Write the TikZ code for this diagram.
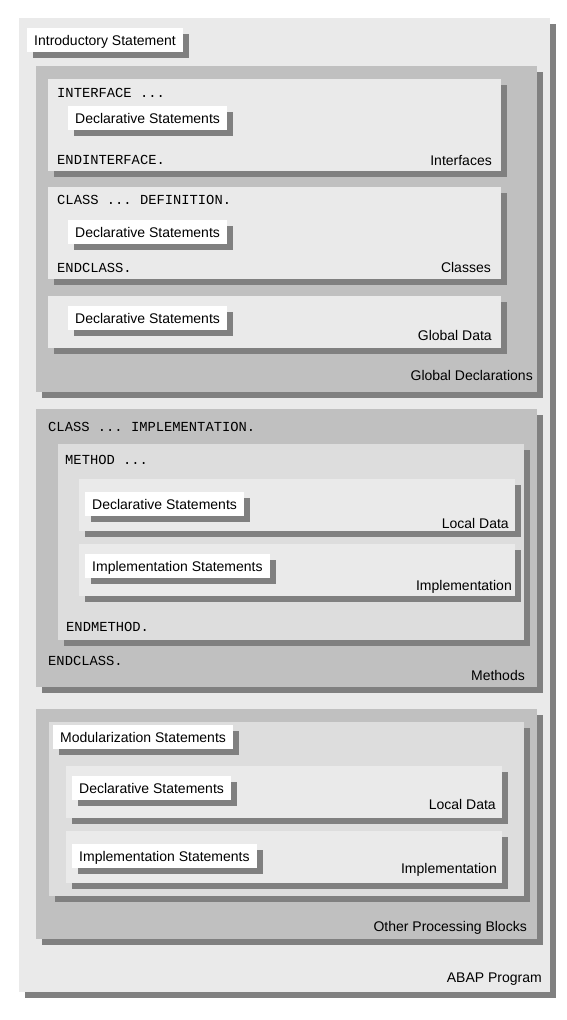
\documentclass[tikz,border=0pt]{standalone}
\usepackage{fontspec}
\setmainfont{Liberation Sans}
\setmonofont{Liberation Mono}
\usetikzlibrary{shadows}

\definecolor{progbg}{HTML}{EAEAEA}
\definecolor{blockbg}{HTML}{C0C0C0}
\definecolor{methbg}{HTML}{DDDDDD}
\definecolor{partbg}{HTML}{EAEAEA}
\definecolor{shadowgray}{HTML}{808080}

\newcommand\boxfont{\fontsize{14}{16}\selectfont}
\newcommand\codefont{\fontsize{13.8}{16}\selectfont\ttfamily}

\tikzset{
  shade6/.style={drop shadow={shadow xshift=6pt, shadow yshift=-6pt,
      fill=shadowgray, opacity=1}},
  stmt/.style={anchor=north west, fill=white, shade6, inner xsep=7pt,
      inner ysep=7pt, text height=10pt, text depth=0pt, font=\boxfont},
  code/.style={anchor=base west, inner sep=0pt, font=\codefont},
  lbl/.style={anchor=base east, inner sep=0pt, font=\boxfont}
}

\begin{document}
\begin{tikzpicture}[x=1pt,y=-1pt]
        \useasboundingbox (0,0) rectangle (567,1020);
        % ABAP program
        \fill[progbg, shade6] (19,18) rectangle (550,992);
        \node[stmt] (intro) at (27,28) {Introductory Statement};
        % global declarations
        \fill[blockbg, shade6] (36,66) rectangle (537,392);
        \fill[partbg, shade6] (48,79) rectangle (501,171);
        \node[code] (intf) at (57,97) {INTERFACE ...};
        \node[stmt] (intfdecl) at (68,106) {Declarative Statements};
        \node[code] (endintf) at (57,164) {ENDINTERFACE.};
        \node[lbl] (intflbl) at (492,165) {Interfaces};
        \fill[partbg, shade6] (48,187) rectangle (501,279);
        \node[code] (cdef) at (57,204) {CLASS ... DEFINITION.};
        \node[stmt] (cdecl) at (68,220) {Declarative Statements};
        \node[code] (endcdef) at (57,272) {ENDCLASS.};
        \node[lbl] (clslbl) at (491,272) {Classes};
        \fill[partbg, shade6] (48,296) rectangle (501,348);
        \node[stmt] (gdecl) at (68,306) {Declarative Statements};
        \node[lbl] (gdatalbl) at (492,340) {Global Data};
        \node[lbl] (globlbl) at (533,380) {Global Declarations};
        % methods
        \fill[blockbg, shade6] (36,409) rectangle (537,687);
        \node[code] (cimpl) at (48,431) {CLASS ... IMPLEMENTATION.};
        \fill[methbg, shade6] (58,444) rectangle (524,640);
        \node[code] (meth) at (65,464) {METHOD ...};
        \fill[partbg, shade6] (79,479) rectangle (515,531);
        \node[stmt] (mdecl) at (85,492) {Declarative Statements};
        \node[lbl] (mlocallbl) at (509,528) {Local Data};
        \fill[partbg, shade6] (79,544) rectangle (515,596);
        \node[stmt] (mimpl) at (85,554) {Implementation Statements};
        \node[lbl] (mimpllbl) at (512,590) {Implementation};
        \node[code] (endmeth) at (66,631) {ENDMETHOD.};
        \node[code] (endcimpl) at (48,665) {ENDCLASS.};
        \node[lbl] (methlbl) at (525,680) {Methods};
        % other processing blocks
        \fill[blockbg, shade6] (36,709) rectangle (537,939);
        \fill[methbg, shade6] (49,722) rectangle (524,896);
        \node[stmt] (modul) at (53,725) {Modularization Statements};
        \fill[partbg, shade6] (66,766) rectangle (502,818);
        \node[stmt] (odecl) at (72,776) {Declarative Statements};
        \node[lbl] (olocallbl) at (496,809) {Local Data};
        \fill[partbg, shade6] (66,831) rectangle (502,883);
        \node[stmt] (oimpl) at (72,844) {Implementation Statements};
        \node[lbl] (oimpllbl) at (497,873) {Implementation};
        \node[lbl] (otherlbl) at (527,931) {Other Processing Blocks};
        \node[lbl] (proglbl) at (542,982) {ABAP Program};
    \end{tikzpicture}
\end{document}
